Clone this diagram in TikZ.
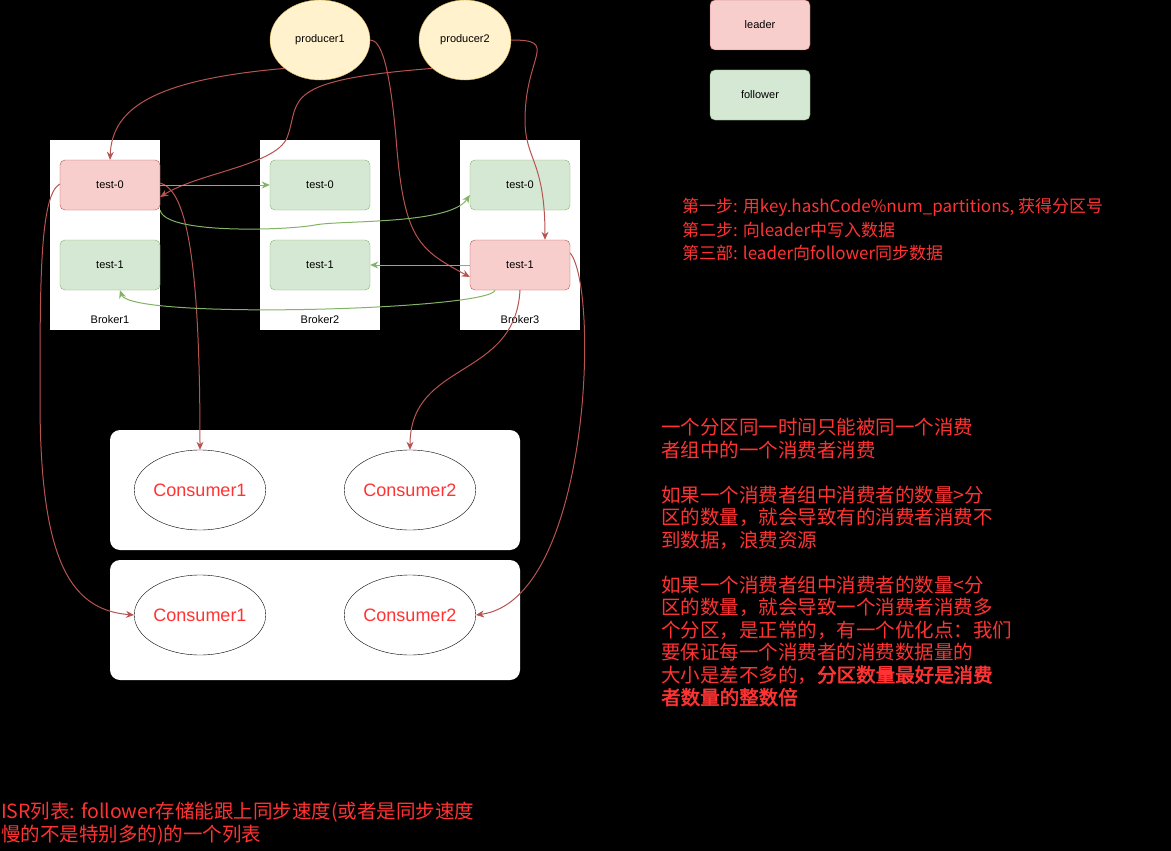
\documentclass[tikz,border=0pt]{standalone}
\usepackage{fontspec}
\setmainfont{Liberation Sans}
\newfontfamily\cjk[AutoFakeBold=2.5]{Noto Sans CJK SC}
\usetikzlibrary{arrows.meta,shapes.geometric}
\definecolor{lfill}{HTML}{F8CECC}\definecolor{ldraw}{HTML}{B85450}
\definecolor{ffill}{HTML}{D5E8D4}\definecolor{fdraw}{HTML}{82B366}
\definecolor{pfill}{HTML}{FFF2CC}\definecolor{pdraw}{HTML}{D6B656}
\definecolor{rt}{HTML}{FF3333}
\begin{document}
\begin{tikzpicture}[x=1pt,y=-1pt,
 lead/.style={draw=ldraw,fill=lfill,rounded corners=5pt,minimum width=100pt,minimum height=50pt,font=\fontsize{11}{13}\selectfont},
 foll/.style={draw=fdraw,fill=ffill,rounded corners=5pt,minimum width=100pt,minimum height=50pt,font=\fontsize{11}{13}\selectfont},
 prod/.style={draw=pdraw,fill=pfill,ellipse,inner sep=0pt,minimum width=100pt,minimum height=80pt,font=\fontsize{11}{13}\selectfont},
 broker/.style={fill=white,draw=none},
 cons/.style={draw=black,fill=white,ellipse,inner sep=0pt,minimum width=120pt,minimum height=80pt,text=rt,font=\fontsize{18}{20}\selectfont},
 grp/.style={fill=white,rounded corners=10pt,draw=none},
 ra/.style={draw=ldraw,line width=1pt,-{Stealth[length=8pt,width=7pt]}},
 ga/.style={draw=fdraw,line width=1pt,-{Stealth[length=8pt,width=7pt]}},
 note/.style={text=rt,anchor=north west,align=left,inner sep=0pt,font=\cjk\fontsize{19.5}{22.5}\selectfont}]
\fill[black] (0,0) rectangle (1171,851);
\useasboundingbox (0,0) rectangle (1171,851);
\node[prod] (p1) at (320,40) {producer1};
\node[prod,minimum width=92pt] (p2) at (465,40) {producer2};
\node[lead] (leg1) at (760,25) {leader};
\node[foll] (leg2) at (760,95) {follower};
\fill[broker] (50,140) rectangle (160,330);
\fill[broker] (260,140) rectangle (380,330);
\fill[broker] (460,140) rectangle (580,330);
\node[font=\fontsize{11}{13}\selectfont] (bk1) at (110,320) {Broker1};
\node[font=\fontsize{11}{13}\selectfont] (bk2) at (320,320) {Broker2};
\node[font=\fontsize{11}{13}\selectfont] (bk3) at (520,320) {Broker3};
\node[lead] (a0) at (110,185) {test-0};
\node[foll] (a1) at (110,265) {test-1};
\node[foll] (b0) at (320,185) {test-0};
\node[foll] (b1) at (320,265) {test-1};
\node[foll] (c0) at (520,185) {test-0};
\node[lead] (c1) at (520,265) {test-1};
\fill[grp] (110,430) rectangle (520,550);
\fill[grp] (110,560) rectangle (520,680);
\node[cons] (k1) at (200,490) {Consumer1};
\node[cons] (k2) at (410,490) {Consumer2};
\node[cons] (k3) at (200,615) {Consumer1};
\node[cons] (k4) at (410,615) {Consumer2};
% red arrows
\draw[ra] (p1.south west) .. controls (150,80) and (112,110) .. (a0.north);
\draw[ra] (p2.south west) .. controls (280,80) and (300,100) .. (288,135) .. controls (280,165) and (200,172) .. ([yshift=-12pt]a0.east);
\draw[ra] (p1.east) .. controls (380,40) and (390,60) .. (397,150) .. controls (405,240) and (420,250) .. ([yshift=-12pt]c1.west);
\draw[ra] (p2.east) .. controls (560,40) and (525,55) .. (525,120) .. controls (525,160) and (545,160) .. ([xshift=25pt]c1.north);
\draw[ra] ([yshift=2pt]a0.east) .. controls (185,190) and (200,250) .. (k1.north);
\draw[ra] ([yshift=1pt]a0.west) .. controls (40,195) and (40,280) .. (40,400) .. controls (40,560) and (70,610) .. (k3.west);
\draw[ra] (c1.south) .. controls (515,380) and (410,360) .. (k2.north);
\draw[ra] ([yshift=12pt]c1.east) .. controls (600,290) and (590,600) .. (k4.east);
% green arrows
\draw[ga] (a0.east) -- (b0.west);
\draw[ga] (a0.south east) .. controls (165,235) and (290,230) .. (315,225) .. controls (340,220) and (450,225) .. ([yshift=-10pt]c0.west);
\draw[ga] (c1.west) -- (b1.east);
\draw[ga] ([xshift=-25pt]c1.south) .. controls (490,310) and (130,320) .. ([xshift=10pt]a1.south);
% notes
\node[note,font=\cjk\fontsize{17}{23.5}\selectfont] (n1) at (682,198) {第一步: 用key.hashCode\%num\_partitions, 获得分区号\\第二步: 向leader中写入数据\\第三部: leader向follower同步数据};
\node[note] (n2) at (661,418) {一个分区同一时间只能被同一个消费\\者组中的一个消费者消费\\[22.5pt]如果一个消费者组中消费者的数量>分\\区的数量，就会导致有的消费者消费不\\到数据，浪费资源\\[22.5pt]如果一个消费者组中消费者的数量<分\\区的数量，就会导致一个消费者消费多\\个分区，是正常的，有一个优化点：我们\\要保证每一个消费者的消费数据量的\\大小是差不多的，\textbf{分区数量最好是消费}\\\textbf{者数量的整数倍}};
\node[note,font=\cjk\fontsize{19.5}{23}\selectfont] (n3) at (1,802) {ISR列表: follower存储能跟上同步速度(或者是同步速度\\慢的不是特别多的)的一个列表};
\end{tikzpicture}
\end{document}
